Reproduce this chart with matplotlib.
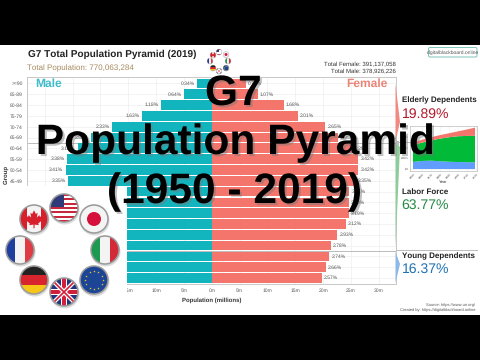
import numpy as np
import matplotlib
matplotlib.use('Agg')
import matplotlib.pyplot as plt
import matplotlib.patches as mpatches
import matplotlib.patheffects as pe

plt.rcParams['font.family'] = ['Liberation Sans', 'DejaVu Sans']
plt.rcParams['text.hinting'] = 'no_hinting'
plt.rcParams['text.hinting_factor'] = 1

TOTAL = 770.063284  # millions

age_groups = ['>=90', '85-89', '80-84', '75-79', '70-74', '65-69', '60-64', '55-59', '50-54', '45-49',
              '40-44', '35-39', '30-34', '25-29', '20-24', '15-19', '10-14', '5-9', '0-4']
male_pct = [0.34, 0.64, 1.18, 1.63, 2.33, 2.82, 3.13, 3.38, 3.41, 3.35,
            3.20, 3.10, 3.05, 3.20, 3.05, 2.92, 2.88, 2.80, 2.70]
female_pct = [0.79, 1.07, 1.68, 2.01, 2.65, 2.95, 3.29, 3.42, 3.42, 3.35,
              3.21, 3.20, 3.19, 3.12, 2.93, 2.78, 2.74, 2.66, 2.57]
xticks = [-30, -25, -20, -15, -10, -5, 0, 5, 10, 15, 20, 25, 30]

years = [1950, 1960, 1970, 1980, 1990, 2000, 2010, 2019]
young = [131, 150, 155, 145, 135, 130, 127, 126]
labor = [315, 340, 375, 420, 455, 480, 488, 491]
elderly = [42, 55, 60, 65, 75, 90, 120, 153]

TEAL = '#12B5BE'
SALMON = '#F4756B'
GREY = '#555555'
W, H = 480, 360

def px_axes(x0, y0, x1, y1, **kw):
    return fig.add_axes([x0 / W, 1 - y1 / H, (x1 - x0) / W, (y1 - y0) / H], **kw)

fig = plt.figure(figsize=(4.8, 3.6), dpi=100, facecolor='white')

# -- pyramid --
ax = px_axes(27, 77, 395.5, 284, zorder=1)
y = np.arange(len(age_groups))
male = np.array(male_pct) * TOTAL / 100
female = np.array(female_pct) * TOTAL / 100
ax.barh(y, -male, height=0.9, color=TEAL, zorder=3)
ax.barh(y, female, height=0.9, color=SALMON, zorder=3)
for i in y:
    ax.text(-male[i] - 0.4, i, f'{male_pct[i]:.2f}%', ha='right', va='center', fontsize=3.6, color=GREY, zorder=4)
    ax.text(female[i] + 0.4, i, f'{female_pct[i]:.2f}%', ha='left', va='center', fontsize=3.6, color=GREY, zorder=4)
ax.set_xlim(-33.2, 33.0)
ax.set_ylim(len(age_groups) - 0.45, -0.6)
ax.set_yticks(y, age_groups)
ax.set_xticks(xticks, [f'{abs(v)}m' for v in xticks])
ax.tick_params(length=0, labelsize=3.9, labelcolor=GREY, pad=3)
ax.grid(True, color='#eeeeee', lw=0.5, zorder=0)
ax.set_axisbelow(True)
for s in ax.spines.values():
    s.set_color('#c8c8c8')
    s.set_linewidth(0.7)
ax.set_xlabel('Population (millions)', fontsize=4.6, fontweight='bold', color='#333333', labelpad=3)
ax.axhline(5.47, color='#bbbbbb', lw=0.7, zorder=1)
ax.axhline(15.5, color='#bbbbbb', lw=0.7, zorder=1)

# -- small stacked area --
ax2 = px_axes(410, 126, 477, 171, zorder=2)
ax2.stackplot(years, young, labor, elderly, colors=['#619CFF', '#00BA38', SALMON])
ax2.set_xlim(1946.7, 2021.2)
ax2.set_ylim(-37, 800)
ax2.set_xticks(range(1950, 2021, 10), [str(v) for v in range(1950, 2021, 10)], rotation=45)
ax2.set_yticks([0, 200, 400, 600, 800], ['0m', '200m', '400m', '600m', '800m'])
ax2.tick_params(length=0, labelsize=2.4, labelcolor=GREY, pad=1)
ax2.grid(True, color='#eeeeee', lw=0.4)
ax2.set_axisbelow(True)
for s in ax2.spines.values():
    s.set_color('#c8c8c8')
    s.set_linewidth(0.6)
ax2.set_xlabel('Year', fontsize=2.8, labelpad=0.5, color='#333333')
ax2.set_ylabel('Population', fontsize=2.8, labelpad=0.5, color='#333333')

# -- everything else in pixel coords --
ov = fig.add_axes([0, 0, 1, 1], zorder=5)
ov.set_xlim(0, W)
ov.set_ylim(H, 0)
ov.axis('off')
ov.patch.set_alpha(0)

ov.add_patch(mpatches.Rectangle((0, 0), W, 45, color='black', lw=0))
ov.add_patch(mpatches.Rectangle((0, 315), W, 45, color='black', lw=0))
ov.add_patch(mpatches.Rectangle((0, 186), 127, 129, color='white', lw=0, zorder=1))

ov.text(28, 54.5, 'G7 Total Population Pyramid (2019)', fontsize=7.4, fontweight='bold', color='#222222', va='center')
ov.text(27, 68.5, 'Total Population: 770,063,284', fontsize=6.1, color='#A58A5E', va='center')
ov.text(396, 65, 'Total Female: 391,137,058', fontsize=4.0, color='#333333', ha='right', va='center')
ov.text(396, 72, 'Total Male: 378,926,226', fontsize=4.0, color='#333333', ha='right', va='center')
ov.text(35, 84, 'Male', fontsize=8.5, fontweight='bold', color='#3FBCCB', va='center')
ov.text(388, 84, 'Female', fontsize=8.5, fontweight='bold', color='#EC8377', ha='right', va='center')
ov.text(6, 181, 'Age Group', fontsize=4.6, fontweight='bold', color='#333333', rotation=90, ha='center', va='center', zorder=0)

ov.add_patch(mpatches.FancyBboxPatch((429.5, 48.5), 46.5, 7.5, boxstyle='round,pad=1,rounding_size=1.5',
                                     fc='white', ec='#7FC4B8', lw=0.7))
ov.text(453, 52.3, 'digitalblackboard.online', fontsize=3.5, color='#555555', ha='center', va='center')

# wedges and dividers
for xs, ys, c in [((395.5, 400, 395.5), (84, 122, 141), '#F08A80'),
                  ((395.5, 400, 395.5), (143, 147, 248), '#8FCB9B'),
                  ((395.5, 400, 395.5), (252, 264, 283), '#8DB8E8')]:
    ov.add_patch(mpatches.Polygon(list(zip(xs, ys)), closed=True, fc=c, ec='none'))
ov.plot([395.5, 477], [250, 250], color='#bbbbbb', lw=0.7)
ov.plot([395.5, 410], [142, 142], color='#bbbbbb', lw=0.7)

ov.text(401.5, 100, 'Elderly Dependents', fontsize=5.7, fontweight='bold', color='#222222', va='center')
ov.text(401.5, 114, '19.89%', fontsize=9.8, color='#B2182B', va='center')
ov.text(401.5, 191.5, 'Labor Force', fontsize=5.7, fontweight='bold', color='#222222', va='center')
ov.text(401.5, 205, '63.77%', fontsize=9.8, color='#238B45', va='center')
ov.text(401.5, 256.5, 'Young Dependents', fontsize=5.7, fontweight='bold', color='#222222', va='center')
ov.text(401.5, 269.5, '16.37%', fontsize=9.8, color='#2171B5', va='center')
ov.text(475, 305.5, 'Source: https://www.un.org/', fontsize=3.1, color='#555555', ha='right', va='center')
ov.text(475, 310, 'Created by: https://digitalblackboard.online', fontsize=3.1, color='#555555', ha='right', va='center')

LEAF = np.array([(0, -0.62), (0.13, -0.36), (0.26, -0.44), (0.2, -0.1), (0.38, -0.28), (0.42, -0.16),
                 (0.6, -0.2), (0.52, 0.02), (0.6, 0.08), (0.3, 0.32), (0.34, 0.44), (0.04, 0.4), (0.04, 0.66),
                 (-0.04, 0.66), (-0.04, 0.4), (-0.34, 0.44), (-0.3, 0.32), (-0.6, 0.08), (-0.52, 0.02),
                 (-0.6, -0.2), (-0.42, -0.16), (-0.38, -0.28), (-0.2, -0.1), (-0.26, -0.44), (-0.13, -0.36)])

# flags
def flag(kind, cx, cy, r):
    clip = mpatches.Circle((cx, cy), r, transform=ov.transData)
    def rect(x0, y0, x1, y1, c):
        p = mpatches.Rectangle((cx + x0 * r, cy + y0 * r), (x1 - x0) * r, (y1 - y0) * r, fc=c, ec='none', zorder=3)
        ov.add_patch(p)
        p.set_clip_path(clip)
    def band(x0, y0, x1, y1, c, w):
        l, = ov.plot([cx + x0 * r, cx + x1 * r], [cy + y0 * r, cy + y1 * r], color=c, lw=w * r * 0.72, solid_capstyle='butt', zorder=3.1)
        l.set_clip_path(clip)
    ov.add_patch(mpatches.Circle((cx + r * 0.05, cy + r * 0.12), r * 1.06, fc='#dddddd', ec='none', zorder=2))
    if kind == 'us':
        rect(-1, -1, 1, 1, 'white')
        for k in range(7):
            rect(-1, -1 + k * 2 / 6.5, 1, -1 + k * 2 / 6.5 + 0.15, '#C8283C')
        rect(-1, -1, 0.0, -0.05, '#2E3A78')
    elif kind == 'jp':
        rect(-1, -1, 1, 1, '#F4F4F4')
        ov.add_patch(mpatches.Circle((cx, cy), r * 0.5, fc='#D5103A', ec='none', zorder=3.1))
    elif kind == 'it':
        rect(-1, -1, -0.33, 1, '#1E9A50')
        rect(-0.33, -1, 0.33, 1, '#F4F4F4')
        rect(0.33, -1, 1, 1, '#D42A38')
    elif kind == 'fr':
        rect(-1, -1, -0.33, 1, '#1E3FA0')
        rect(-0.33, -1, 0.33, 1, '#F4F4F4')
        rect(0.33, -1, 1, 1, '#E03A45')
    elif kind == 'de':
        rect(-1, -1, 1, -0.33, '#222222')
        rect(-1, -0.33, 1, 0.33, '#D8242C')
        rect(-1, 0.33, 1, 1, '#F5C518')
    elif kind == 'ca':
        rect(-1, -1, 1, 1, '#F4F4F4')
        rect(-1, -1, -0.5, 1, '#D8202C')
        rect(0.5, -1, 1, 1, '#D8202C')
        ov.add_patch(mpatches.Polygon(LEAF * r + [cx, cy], closed=True, fc='#D8202C', ec='none', zorder=3.1))
    elif kind == 'eu':
        rect(-1, -1, 1, 1, '#1D4595')
        a = np.linspace(0, 2 * np.pi, 12, endpoint=False)
        ov.scatter(cx + 0.62 * r * np.cos(a), cy + 0.62 * r * np.sin(a), s=r * 0.22, marker='*', c='#F3CF2A', lw=0, zorder=3.1)
    elif kind == 'uk':
        rect(-1, -1, 1, 1, '#24357A')
        band(-1, -1, 1, 1, 'white', 0.3)
        band(-1, 1, 1, -1, 'white', 0.3)
        band(-1, -1, 1, 1, '#D3203A', 0.12)
        band(-1, 1, 1, -1, '#D3203A', 0.12)
        rect(-1, -0.24, 1, 0.24, 'white')
        rect(-0.24, -1, 0.24, 1, 'white')
        rect(-1, -0.13, 1, 0.13, '#D3203A')
        rect(-0.13, -1, 0.13, 1, '#D3203A')
    ov.add_patch(mpatches.Circle((cx, cy), r, fc='none', ec='#9a9a9a', lw=r * 0.08, zorder=3.5))

for kind, cx, cy in [('us', 64, 208), ('jp', 94, 219), ('it', 105, 250), ('eu', 94, 280),
                     ('uk', 64, 292), ('de', 34, 280), ('fr', 20, 250), ('ca', 34, 219)]:
    flag(kind, cx, cy, 14)
for kind, cx, cy in [('us', 219, 52), ('jp', 226, 54.5), ('it', 228, 61), ('eu', 226, 68),
                     ('uk', 219, 71), ('de', 213, 68), ('fr', 210, 61), ('ca', 213, 55)]:
    flag(kind, cx, cy, 2.9)

# big overlaid title
shadow = [pe.SimplePatchShadow(offset=(1.5, -1.5), shadow_rgbFace='#777777', alpha=0.45), pe.Normal()]
for line, base in [('G7', 105), ('Population Pyramid', 154), ('(1950 - 2019)', 203)]:
    ov.text(233, base, line, fontsize=30.6, fontweight='bold', color='black', ha='center', va='baseline', zorder=10, path_effects=shadow)

fig.savefig('out.png', dpi=100)
